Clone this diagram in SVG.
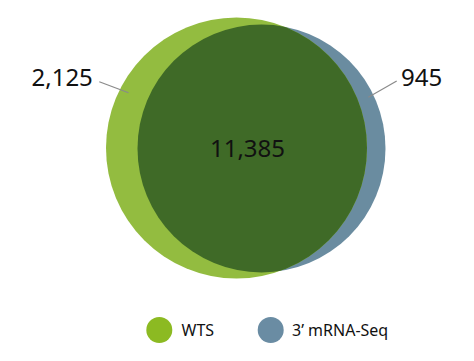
<svg xmlns="http://www.w3.org/2000/svg" width="474" height="361" viewBox="0 0 474 361">
<style>
.lbl{font-family:"Noto Sans","Open Sans","DejaVu Sans",sans-serif;fill:#111111}
.num{font-size:24px}
.leg{font-size:16px}
.lead{stroke:#8a8a8a;stroke-width:1.2;fill:none}
</style>
<defs>
<clipPath id="clipBlue"><circle cx="261.5" cy="148.5" r="124"/></clipPath>
</defs>
<rect width="474" height="361" fill="#ffffff"/>
<g id="set-3mrna">
<circle cx="261.5" cy="148.5" r="124" fill="#6a8ca0"/>
</g>
<g id="set-wts">
<circle cx="236.5" cy="148" r="130.5" fill="#93bc40"/>
</g>
<g id="overlap">
<circle cx="236.5" cy="148" r="130.5" fill="#3f6a27" clip-path="url(#clipBlue)"/>
<text class="lbl num" x="247.5" y="157" text-anchor="middle">11,385</text>
</g>
<g id="connectors">
<line class="lead" x1="99.3" y1="81.7" x2="128.5" y2="92.8"/>
<line class="lead" x1="396.7" y1="81" x2="368.3" y2="97.3"/>
</g>
<g id="label-wts-only">
<text class="lbl num" x="31.5" y="86">2,125</text>
</g>
<g id="label-3mrna-only">
<text class="lbl num" x="401" y="86">945</text>
</g>
<g id="legend">
<g id="legend-wts">
<circle cx="159.3" cy="330" r="13" fill="#8cba22"/>
<text class="lbl leg" x="181.5" y="335.5">WTS</text>
</g>
<g id="legend-3mrna">
<circle cx="270.7" cy="330" r="13" fill="#6a8ca3"/>
<text class="lbl leg" x="292" y="335.5">3’ mRNA-Seq</text>
</g>
</g>
</svg>
